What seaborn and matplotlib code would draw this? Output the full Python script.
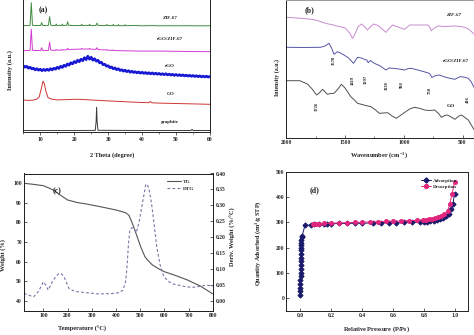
import numpy as np
import pandas as pd
import matplotlib
matplotlib.use("Agg")
import matplotlib.pyplot as plt
from matplotlib.lines import Line2D
import seaborn as sns

# ---------------- (a) XRD patterns ----------------
zif_theta = [5, 6.5, 7.0, 7.35, 7.7, 8.3, 9.5, 10.1, 10.4, 10.7, 11.8, 12.4, 12.75, 13.1, 13.8, 14.5, 14.7,
             14.9, 15.6, 16.3, 16.5, 16.7, 17.3, 17.8, 18.05, 18.3, 20.0, 22.0, 22.2, 22.4, 23.5, 24.3, 24.5,
             24.7, 25.6, 26.4, 26.7, 27.0, 28.3, 29.4, 29.6, 29.8, 30.6, 31.3, 31.5, 31.7, 32.8, 33.0, 33.2,
             34.8, 35.0, 35.2, 38, 40, 43, 45, 48, 50, 53, 55, 58, 60]
zif_int = [106, 106.2, 106.4, 129, 106.5, 106.1, 106.3, 106.2, 109, 106.3, 106.1, 106.4, 115, 106.5, 106.2, 106.3, 107.6,
           106.2, 106.3, 106.2, 107.6, 106.2, 106.3, 106.4, 110, 106.4, 106.1, 106.2, 107.5, 106.2, 106.3, 106.2, 107.5,
           106.2, 106.1, 106.3, 108.6, 106.3, 106.1, 106.2, 107.3, 106.2, 106.1, 106.1, 107.3, 106.1, 106.0, 107.2, 106.0,
           106.0, 107.0, 106.0, 106.2, 105.9, 106.1, 105.9, 106.0, 105.9, 106.0, 105.9, 105.9, 105.9]

comp_theta = [5, 6.5, 7.0, 7.35, 7.7, 8.3, 9.5, 10.1, 10.4, 10.7, 11.8, 12.4, 12.75, 13.1, 13.8, 14.5, 14.7,
              14.9, 15.6, 16.3, 16.5, 16.7, 17.3, 17.8, 18.05, 18.3, 20.0, 22.0, 22.2, 22.4, 23.5, 24.3, 24.5,
              24.7, 25.6, 26.4, 26.7, 27.0, 28.3, 29.4, 29.6, 29.8, 30.6, 31.3, 31.5, 31.7, 34, 38, 42, 46,
              50, 54, 57, 60]
comp_int = [81, 81.2, 81.4, 102.5, 81.5, 81.2, 81.3, 81.2, 84, 81.3, 81.2, 81.4, 89.5, 81.6, 81.3, 81.5, 82.3,
            81.5, 81.6, 81.6, 82.3, 81.7, 81.9, 82.0, 83.5, 82.2, 82.4, 82.6, 83.3, 82.6, 82.7, 82.7, 83.3,
            82.6, 82.4, 82.3, 84.0, 82.2, 81.9, 81.7, 82.2, 81.6, 81.4, 81.3, 81.8, 81.2, 81.0, 80.7, 80.6, 80.6,
            80.4, 80.2, 80.1, 80.0]

rgo_theta = np.arange(5.0, 60.5, 0.5)
rgo_int = [66, 64.5, 65.5, 63.5, 64.5, 62.8, 63.5, 61.8, 63, 61.5, 62.5, 61, 62.3, 61.2, 62.5, 61.3, 63, 61.8,
           63.5, 62.5, 64.5, 63.2, 65.5, 64.2, 66.5, 65.3, 67.8, 66.5, 69, 67.8, 70.2, 69, 71.5, 70, 72.5, 71,
           74, 72, 75.5, 72.5, 74.5, 71.5, 73, 70.5, 71.5, 68.8, 69.5, 67, 67.5, 65.5, 66, 64, 64.8, 62.8,
           63.8, 62, 63, 61.2, 62, 60.5, 61.5, 60, 61, 59.5, 60.5, 59.2, 60, 58.8, 59.8, 58.5, 59.5, 58.3,
           59.2, 58, 59, 57.8, 58.8, 57.6, 58.5, 57.5, 58.3, 57.2, 58, 57, 58, 56.8, 57.6, 56.6, 57.4, 56.3,
           57.2, 56.2, 57, 56, 56.8, 55.8, 56.6, 55.6, 56.4, 55.4, 56.2, 55.2, 56, 55, 55.8, 54.8, 55.6, 54.7,
           55.5, 54.6, 55.3]

go_theta = [5, 6.5, 8.0, 9.0, 9.7, 10.3, 10.8, 11.2, 11.7, 12.3, 13.5, 15, 18, 20, 22, 24, 27, 30, 33, 36,
            40, 42, 42.4, 42.8, 45, 50, 55, 60]
go_int = [31.7, 31.3, 31.6, 32.5, 35, 43, 50.5, 48, 40, 34, 32.4, 31.8, 32.1, 32.4, 32.3, 31.9, 31.3, 30.8,
          30.3, 29.8, 29.2, 29.0, 30.3, 28.9, 28.6, 28.2, 27.8, 27.4]

gra_theta = [5, 20, 26.2, 26.45, 26.6, 26.75, 27.0, 40, 54.4, 54.7, 55.0, 60]
gra_int = [1.2, 1.2, 1.3, 10, 24.5, 10, 1.4, 1.2, 1.2, 2.3, 1.2, 1.2]

xrd_names = ["ZIF-67", "rGO/ZIF-67", "rGO", "GO", "graphite"]
xrd_colors = ["#3f8c3f", "#d23ad2", "#1717d4", "#d13434", "#3a3a3a"]

# ---------------- (b) FTIR spectra ----------------
ir_zif_wn = [2000, 1850, 1750, 1666, 1600, 1566, 1500, 1460, 1437, 1415, 1390, 1360, 1330, 1309, 1285, 1257,
             1220, 1185, 1152, 1120, 1094, 1050, 994, 960, 951, 880, 794, 775, 766, 745, 709, 650, 566, 520,
             480, 450, 420, 396]
ir_zif_int = [121, 119.8, 118.3, 115, 113.3, 112.3, 110.3, 105.3, 100, 104.3, 111.3, 114.3, 111.3, 108.3, 111.3,
              114.3, 112.8, 109.3, 106, 110.3, 113.3, 111.3, 109, 112.3, 113.3, 113.3, 113.3, 110.3, 107.6, 109.8,
              112.3, 111.8, 112.3, 111.8, 111, 109.3, 106.3, 103.3]

ir_comp_wn = [2000, 1850, 1709, 1670, 1637, 1615, 1594, 1566, 1540, 1508, 1470, 1428, 1394, 1360, 1337, 1315,
              1303, 1285, 1251, 1200, 1152, 1125, 1095, 1040, 994, 960, 936, 880, 820, 780, 760, 740, 700, 650,
              600, 566, 522, 490, 451, 425, 409, 398]
ir_comp_int = [91, 90.8, 91, 92.3, 95, 90.3, 84, 86.6, 85.3, 83.3, 80.3, 75, 81, 80.3, 79, 78.3, 75.6, 77.8, 75,
               72.3, 68.3, 70.3, 70, 69.3, 68.3, 69.8, 70, 68.3, 66.3, 64.8, 60.8, 62.3, 63.3, 61.3, 59.8, 59,
               61.6, 61.3, 60, 56.3, 52.3, 50.3]

ir_go_wn = [2000, 1886, 1820, 1780, 1743, 1720, 1691, 1670, 1651, 1620, 1594, 1560, 1531, 1500, 1451, 1420,
            1394, 1340, 1280, 1240, 1208, 1170, 1137, 1100, 1063, 1000, 950, 908, 860, 823, 780, 737, 700, 680,
            650, 629, 590, 566, 530, 509, 480, 451, 425, 400]
ir_go_int = [57.6, 57.6, 54.3, 49.3, 43.3, 45.3, 49, 46.3, 44, 44.8, 45, 49.3, 54, 50.3, 41.6, 38.3, 35, 33.3,
             31.6, 28.3, 25, 25.3, 25.6, 22.3, 20, 25.3, 29.3, 31, 29.8, 28.3, 27.8, 28.3, 24.3, 21, 22.8, 23.3,
             20.8, 19, 22.3, 23.3, 20.8, 18.3, 13.3, 8.3]

ir_marks = ["1578", "1419", "1297", "1138", "990", "750", "416", "1726"]
ir_mark_wn = [1600, 1432, 1327, 1145, 1013, 782, 455, 1740]
ir_mark_int = [78, 58, 59, 53, 54, 48, 39, 32]

# ---------------- (c) TG / DTG ----------------
tg_temp = [20, 50, 100, 141, 170, 200, 240, 275, 330, 400, 440, 453, 465, 480, 502, 520, 530, 550, 575, 598,
           650, 695, 750, 800]
tg_weight = [100, 99.6, 98.8, 96.6, 94, 91.5, 90.2, 89.5, 88.2, 86.4, 85, 83.8, 80.5, 75.5, 67.7, 62.5, 61,
             58.4, 56.5, 55, 52.8, 50.7, 47.5, 43.6]

dtg_temp = [20, 40, 60, 80, 100, 110, 120, 140, 163, 175, 186, 206, 230, 275, 330, 380, 412, 429, 440, 446,
            452, 458, 467, 476, 484, 495, 505, 515, 523, 529, 537, 547, 558, 568, 582, 596, 615, 638, 693, 720,
            748, 775, 800]
dtg_deriv = [0.024, 0.018, 0.013, 0.03, 0.06, 0.05, 0.034, 0.065, 0.086, 0.085, 0.075, 0.039, 0.03, 0.026,
             0.022, 0.023, 0.026, 0.034, 0.06, 0.11, 0.18, 0.225, 0.23, 0.225, 0.214, 0.245, 0.287, 0.33, 0.364,
             0.367, 0.35, 0.307, 0.24, 0.173, 0.115, 0.08, 0.062, 0.053, 0.044, 0.043, 0.046, 0.05, 0.046]

# ---------------- (d) N2 isotherm ----------------
ads_p = [0.001, 0.001, 0.001, 0.001, 0.001, 0.002, 0.002, 0.002, 0.002, 0.002, 0.003, 0.003, 0.003, 0.004,
         0.005, 0.006, 0.008, 0.01, 0.012, 0.03, 0.07, 0.09, 0.12, 0.15, 0.17, 0.2, 0.25, 0.3, 0.35, 0.4,
         0.47, 0.52, 0.57, 0.62, 0.67, 0.72, 0.77, 0.8, 0.82, 0.84, 0.86, 0.88, 0.9, 0.92, 0.94, 0.96, 0.975,
         0.985, 0.995]
ads_q = [10, 25, 40, 55, 70, 85, 100, 115, 130, 145, 160, 175, 190, 200, 210, 220, 230, 240, 246, 288, 290,
         292, 293, 294, 295, 295, 296, 296, 297, 297, 298, 298, 299, 299, 300, 300, 301, 302, 303, 305, 307,
         310, 313, 318, 325, 335, 355, 375, 415]

des_p = [0.995, 0.98, 0.965, 0.95, 0.93, 0.91, 0.89, 0.87, 0.85, 0.83, 0.81, 0.79, 0.75, 0.7, 0.65, 0.6,
         0.55, 0.5, 0.45, 0.4, 0.35, 0.3, 0.25, 0.2, 0.15, 0.12, 0.1, 0.08]
des_q = [462, 415, 375, 345, 333, 325, 320, 317, 314, 312, 310, 309, 308, 307, 306, 305, 304, 303, 302, 301,
         300, 299, 298, 297, 296, 295, 294, 293]

# ---------------- figure ----------------
sns.set_theme(style="ticks")
plt.rcParams['font.family'] = ['Liberation Serif', 'DejaVu Serif']
plt.rcParams['font.weight'] = 'bold'
plt.rcParams['mathtext.fontset'] = 'custom'
plt.rcParams['mathtext.rm'] = 'Liberation Serif:bold'
plt.rcParams['mathtext.bf'] = 'Liberation Serif:bold'
plt.rcParams['mathtext.it'] = 'Liberation Serif:italic:bold'
plt.rcParams['axes.linewidth'] = 0.7

W, H = 474, 335
fig = plt.figure(figsize=(W / 100, H / 100), dpi=100)


def box(l, t, r, b):
    return [l / W, 1 - b / H, (r - l) / W, (b - t) / H]


def ftext(x, y, s, **kw):
    fig.text(x / W, 1 - y / H, s, ha='center', va='center', **kw)


TICK = 4.0
LAB = 4.6


def style_axis(ax):
    for sp in ax.spines.values():
        sp.set_color('#222222')
        sp.set_linewidth(0.7)
    ax.tick_params(labelsize=TICK, length=2, width=0.5, pad=1.5, colors='#222222')


# (a)
axA = fig.add_axes(box(23.3, -1, 210, 131.7))
series_a = [(zif_theta, zif_int, 0.7), (comp_theta, comp_int, 0.7), (rgo_theta, rgo_int, 1.9),
            (go_theta, go_int, 0.7), (gra_theta, gra_int, 0.7)]
for (xv, yv, lw), col in zip(series_a, xrd_colors):
    sns.lineplot(x=xv, y=yv, ax=axA, color=col, lw=lw, sort=False, estimator=None)
axA.set_xlim(5, 60)
axA.set_ylim(0, 132.7)
axA.set_yticks([])
axA.set_xticks([10, 20, 30, 40, 50, 60])
axA.set_xticks([5, 15, 25, 35, 45, 55], minor=True)
style_axis(axA)
axA.tick_params(axis='x', which='both', direction='out')
axA.tick_params(axis='x', which='minor', length=1.5, width=0.4)
for name, ty in zip(xrd_names, [113.7, 92.7, 65.7, 37.7, 9.7]):
    axA.text(48.3, ty, name, fontsize=3.6, ha='center', va='center', color='#222222')
axA.text(10.8, 121.7, "(a)", fontsize=5.6, ha='center', va='center', color='#222222')
ftext(112, 155, "2 Theta (degree)", fontsize=LAB, color='#222222')
ftext(10, 70, "Intensity (a.u.)", fontsize=LAB, rotation=90, color='#222222')

# (b)
axB = fig.add_axes(box(286.3, 0, 476, 138.3))
ir_colors = ["#c98ad1", "#5656a6", "#505050"]
for (xv, yv), col in zip([(ir_zif_wn, ir_zif_int), (ir_comp_wn, ir_comp_int), (ir_go_wn, ir_go_int)], ir_colors):
    sns.lineplot(x=xv, y=yv, ax=axB, color=col, lw=0.7, sort=False, estimator=None)
axB.set_xlim(2000, 400 - 1.7 / 0.1167)
axB.set_ylim(0, 138.3)
axB.set_yticks([])
axB.set_xticks([2000, 1500, 1000, 500])
axB.set_xticks([1750, 1250, 750], minor=True)
style_axis(axB)
axB.spines['top'].set_color('#999999')
axB.tick_params(axis='x', which='both', direction='in')
axB.tick_params(axis='x', which='minor', length=1.5, width=0.4)
for s, wn, iv in zip(ir_marks, ir_mark_wn, ir_mark_int):
    axB.text(wn, iv, s, fontsize=3.3, rotation=90, ha='center', va='center', color='#222222')
axB.text(577, 123, "ZIF-67", fontsize=3.6, style='italic', ha='center', va='center', color='#222222')
axB.text(554, 77.6, "rGO/ZIF-67", fontsize=3.6, ha='center', va='center', color='#222222')
axB.text(597, 32.3, "GO", fontsize=3.8, ha='center', va='center', color='#222222')
axB.text(1800, 128, "(b)", fontsize=5.6, ha='center', va='center', color='#222222')
ftext(379, 155, r"Wavenumber (cm$^{-1}$)", fontsize=LAB, color='#222222')
ftext(277, 77, "Intensity (a.u.)", fontsize=LAB - 0.4, rotation=90, color='#222222')

# (c)
axC = fig.add_axes(box(24, 173.5, 212.7, 310.7))
sns.lineplot(x=tg_temp, y=tg_weight, ax=axC, color="#555555", lw=0.8, sort=False, estimator=None)
axC.set_xlim(20, 800)
axC.set_ylim(35, 105)
axC.set_xticks([100, 200, 300, 400, 500, 600, 700, 800])
axC.set_yticks([40, 50, 60, 70, 80, 90, 100])
style_axis(axC)
axC.tick_params(direction='in')
axC2 = axC.twinx()
sns.lineplot(x=dtg_temp, y=dtg_deriv, ax=axC2, color="#7575a6", lw=0.8, linestyle=(0, (2.5, 2)),
             sort=False, estimator=None)
axC2.set_ylim(-0.0306, 0.3945)
axC2.set_yticks([0.00, 0.05, 0.10, 0.15, 0.20, 0.25, 0.30, 0.35, 0.40])
axC2.set_yticklabels(["0.00", "0.05", "0.10", "0.15", "0.20", "0.25", "0.30", "0.35", "0.40"])
axC2.set_ylabel("")
style_axis(axC2)
axC2.tick_params(direction='in')
axC2.tick_params(axis='y', pad=2.5)
axC.text(155, 96, "(c)", fontsize=5.6, ha='center', va='center', color='#222222')
handles = [Line2D([0], [0], color="#555555", lw=0.8),
           Line2D([0], [0], color="#7575a6", lw=0.8, linestyle=(0, (2.5, 2)))]
axC.legend(handles, ["TG", "DTG"], loc='upper right', bbox_to_anchor=(0.93, 0.99), frameon=False,
           fontsize=3.8, handlelength=2.6, handletextpad=0.5, labelspacing=0.35)
ftext(82, 329, "Temperature (\u00b0C)", fontsize=LAB, color='#222222')
ftext(3, 255, "Weight (%)", fontsize=LAB, rotation=90, color='#222222')
ftext(233, 237, "Deriv. Weight (%/\u00b0C)", fontsize=LAB, rotation=90, color='#222222')

# (d)
axD = fig.add_axes(box(286.3, 172.3, 467.7, 310.7))
sns.lineplot(x=ads_p, y=ads_q, ax=axD, color="#1b1b6b", lw=0.7, marker='D', markersize=2.6,
             markeredgecolor="#1b1b6b", markerfacecolor="#1b1b6b", sort=False, estimator=None)
sns.lineplot(x=des_p, y=des_q, ax=axD, color="#e2267e", lw=0.7, marker='o', markersize=2.8,
             markeredgecolor="#e2267e", markerfacecolor="#e2267e", sort=False, estimator=None)
axD.set_xlim(-0.09, 1.08)
axD.set_ylim(-52, 500)
axD.set_xticks([0.0, 0.2, 0.4, 0.6, 0.8, 1.0])
axD.set_xticklabels(["0.0", "0.2", "0.4", "0.6", "0.8", "1.0"])
axD.set_yticks([0, 100, 200, 300, 400, 500])
style_axis(axD)
axD.tick_params(direction='in')
axD.text(0.09, 430, "(d)", fontsize=5.6, ha='center', va='center', color='#222222')
dh = [Line2D([0], [0], color="#1b1b6b", lw=0.7, marker='D', markersize=2.6),
      Line2D([0], [0], color="#e2267e", lw=0.7, marker='o', markersize=2.8)]
axD.legend(dh, ["Adsorption", "Desorption"], loc='upper right', bbox_to_anchor=(0.97, 0.99), frameon=False,
           fontsize=3.6, handlelength=2.0, handletextpad=0.4, labelspacing=0.3)
ftext(377, 329, r"Relative Pressure (P/P$_0$)", fontsize=LAB, color='#222222')
ftext(258, 243, r"Quantity Adsorbed (cm$^3$/g STP)", fontsize=LAB - 0.2, rotation=90, color='#222222')

fig.savefig("out.png", dpi=100)
